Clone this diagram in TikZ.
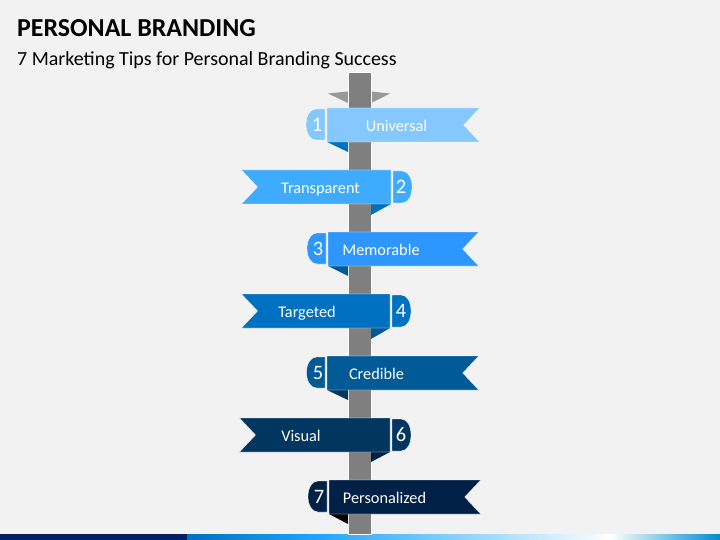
\documentclass[tikz,border=0pt]{standalone}
\usepackage{fontspec}
\setmainfont{Carlito}
\definecolor{pagebg}{HTML}{F2F2F2}
\definecolor{polegray}{HTML}{7F7F7F}
\definecolor{armgray}{HTML}{999999}
\definecolor{tipa}{HTML}{84C8FF}
\definecolor{tipb}{HTML}{3FABFF}
\definecolor{tipc}{HTML}{2E96FF}
\definecolor{tipd}{HTML}{0070C0}
\definecolor{tipe}{HTML}{005A96}
\definecolor{tipf}{HTML}{00365F}
\definecolor{tipg}{HTML}{002147}
\definecolor{barnavy}{HTML}{002060}
\tikzstyle{ribbon} = [draw=white, line width=0.3pt]
\tikzstyle{tipnum} = [text=white, font=\fontsize{20.5}{21}\selectfont, inner sep=0pt]
\tikzstyle{tiptext} = [text=white, font=\fontsize{16.3}{17}\selectfont, inner sep=0pt, text height=11pt, text depth=3.5pt]
\begin{document}
\begin{tikzpicture}[x=1pt,y=-1pt]
    \useasboundingbox (0,0) rectangle (720,540);
    \fill[pagebg] (0,0) rectangle (720,540);

    % header
    \node (title) [anchor=west, inner sep=0pt, font=\fontsize{25.9}{27}\selectfont\bfseries] at (17,28) {PERSONAL BRANDING};
    \node (subtitle) [anchor=west, inner sep=0pt, font=\fontsize{19.95}{21}\selectfont] at (17,60) {7 Marketing Tips for Personal Branding Success};

    % bottom bar
    \fill[barnavy] (0,534) rectangle (187,540);
    \shade[left color=tipd, right color=cyan!60!blue!90!white] (187,534) rectangle (310,540);
    \shade[left color=cyan!60!blue!90!white, right color=white] (310,534) rectangle (610,540);
    \shade[left color=white, right color=tipd!80!cyan] (610,534) rectangle (720,540);

    % post
    \fill[armgray] (348,91.5) -- (328,93.5) -- (348,103) -- cycle;
    \fill[armgray] (371,91.5) -- (390,93.5) -- (371,103) -- cycle;
    \fill[polegray, draw=white, line width=0.3pt] (348.5,72) rectangle (371,534);

    % folds
    \fill[tipd] (327,142) -- (348,142) -- (348,152) -- cycle;
    \fill[tipd] (371,204) -- (391,204) -- (371,215) -- cycle;
    \fill[tipe] (328,266) -- (348,266) -- (348,276) -- cycle;
    \fill[tipe] (371,328) -- (390,328) -- (371,339) -- cycle;
    \fill[tipf] (327,390) -- (348,390) -- (348,400) -- cycle;
    \fill[tipg] (371,452) -- (390,452) -- (371,462) -- cycle;
    \fill[black] (329,514) -- (348,514) -- (348,524) -- cycle;

    % ribbons
    \fill[tipa, ribbon] (327,108) -- (479.7,108) -- (463.7,125) -- (479.7,142) -- (327,142) -- cycle;
    \fill[tipb, ribbon] (391,170) -- (241.5,170) -- (257.5,187) -- (241.5,204) -- (391,204) -- cycle;
    \fill[tipc, ribbon] (328,232) -- (478.7,232) -- (462.7,249) -- (478.7,266) -- (328,266) -- cycle;
    \fill[tipd, ribbon] (390,294) -- (241.5,294) -- (257.5,311) -- (241.5,328) -- (390,328) -- cycle;
    \fill[tipe, ribbon] (327,356) -- (478.7,356) -- (462.7,373) -- (478.7,390) -- (327,390) -- cycle;
    \fill[tipf, ribbon] (390,418) -- (239.5,418) -- (255.5,435) -- (239.5,452) -- (390,452) -- cycle;
    \fill[tipg, ribbon] (329,480) -- (480.7,480) -- (464.7,497) -- (480.7,514) -- (329,514) -- cycle;

    % number tabs
    \fill[tipa, ribbon] (325,109) -- (316,109) .. controls (310,109) and (306,116) .. (306,124.5) .. controls (306,133) and (310,140) .. (316,140) -- (325,140) -- cycle;
    \fill[tipb, ribbon] (393,171) -- (402,171) .. controls (408,171) and (412,178) .. (412,187) .. controls (412,196) and (408,203) .. (402,203) -- (393,203) -- cycle;
    \fill[tipc, ribbon] (326,233) -- (317,233) .. controls (311,233) and (307,240) .. (307,248.5) .. controls (307,257) and (311,264) .. (317,264) -- (326,264) -- cycle;
    \fill[tipd, ribbon] (392,295) -- (401,295) .. controls (407,295) and (411,302) .. (411,311) .. controls (411,320) and (407,327) .. (401,327) -- (392,327) -- cycle;
    \fill[tipe, ribbon] (325,357) -- (316.5,357) .. controls (310.5,357) and (306.5,364) .. (306.5,372.5) .. controls (306.5,381) and (310.5,388) .. (316.5,388) -- (325,388) -- cycle;
    \fill[tipf, ribbon] (392,419) -- (401,419) .. controls (407,419) and (411,426) .. (411,435) .. controls (411,444) and (407,451) .. (401,451) -- (392,451) -- cycle;
    \fill[tipg, ribbon] (327,481) -- (318,481) .. controls (312,481) and (308,488) .. (308,496.5) .. controls (308,505) and (312,512) .. (318,512) -- (327,512) -- cycle;

    % labels
    \node (numone) [tipnum] at (317,125) {1};
    \node (numtwo) [tipnum] at (401,187) {2};
    \node (numthree) [tipnum] at (318,249) {3};
    \node (numfour) [tipnum] at (401,311) {4};
    \node (numfive) [tipnum] at (318,373) {5};
    \node (numsix) [tipnum] at (401,435) {6};
    \node (numseven) [tipnum] at (319,497) {7};

    \node (universal) [tiptext] at (396.5,128) {Universal};
    \node (transparent) [tiptext] at (320.5,190) {Transparent};
    \node (memorable) [tiptext] at (381,252) {Memorable};
    \node (targeted) [tiptext] at (307,314) {Targeted};
    \node (credible) [tiptext] at (376.5,376) {Credible};
    \node (visual) [tiptext] at (301,438) {Visual};
    \node (personalized) [tiptext] at (384.5,500) {Personalized};
\end{tikzpicture}
\end{document}
